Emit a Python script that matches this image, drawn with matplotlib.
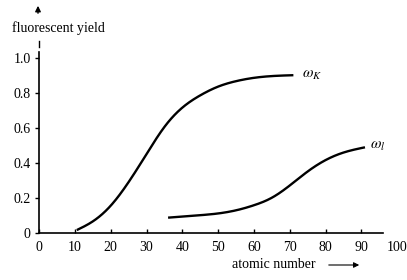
import matplotlib
matplotlib.use("Agg")
import matplotlib.pyplot as plt
import numpy as np
from matplotlib.lines import Line2D

# Data
k_z = [10.5, 15, 20, 25, 30, 35, 40, 45, 50, 55, 60, 65, 71]
k_w = [0.015, 0.065, 0.155, 0.29, 0.45, 0.605, 0.715, 0.785, 0.835, 0.866, 0.885, 0.895, 0.90]
l_z = [36, 45, 50, 55, 60, 65, 70, 75, 80, 85, 91]
l_w = [0.086, 0.10, 0.11, 0.128, 0.157, 0.20, 0.27, 0.35, 0.415, 0.458, 0.488]
x_ticks = [0, 10, 20, 30, 40, 50, 60, 70, 80, 90, 100]
y_ticks = [0, 0.2, 0.4, 0.6, 0.8, 1.0]
y_tick_labels = ["0", "0.2", "0.4", "0.6", "0.8", "1.0"]

plt.rcParams['font.family'] = ['Liberation Serif', 'DejaVu Serif']
plt.rcParams['mathtext.fontset'] = 'stix'

W, H = 407, 280
fig = plt.figure(figsize=(W / 100, H / 100), dpi=100)
left = 39.2 / W
right = (39.2 + 358) / W
bottom = (H - 232.7) / H
top = 1 - 40.2 / H
ax = fig.add_axes([left, bottom, right - left, top - bottom])
ax.set_xlim(0, 100)
ax.set_ylim(0, 1.1)

def spline(xs, ys, n=400):
    xs = np.asarray(xs, float); ys = np.asarray(ys, float)
    N = len(xs); h = np.diff(xs)
    A = np.zeros((N, N)); b = np.zeros(N)
    A[0, 0] = 1; A[-1, -1] = 1
    for i in range(1, N - 1):
        A[i, i - 1] = h[i - 1]; A[i, i] = 2 * (h[i - 1] + h[i]); A[i, i + 1] = h[i]
        b[i] = 6 * ((ys[i + 1] - ys[i]) / h[i] - (ys[i] - ys[i - 1]) / h[i - 1])
    M = np.linalg.solve(A, b)
    xx = np.linspace(xs[0], xs[-1], n)
    idx = np.clip(np.searchsorted(xs, xx) - 1, 0, N - 2)
    x0 = xs[idx]; x1 = xs[idx + 1]; hh = h[idx]
    yy = (M[idx] * (x1 - xx)**3 / (6 * hh) + M[idx + 1] * (xx - x0)**3 / (6 * hh)
          + (ys[idx] / hh - M[idx] * hh / 6) * (x1 - xx)
          + (ys[idx + 1] / hh - M[idx + 1] * hh / 6) * (xx - x0))
    return xx, yy

kx, ky = spline(k_z, k_w)
lx, ly = spline(l_z, l_w)
ax.plot(kx, ky, color='black', lw=1.7, solid_capstyle='butt')
ax.plot(lx, ly, color='black', lw=1.7, solid_capstyle='butt')

ax.text(73.5, 0.90, r'$\omega_K$', fontsize=11, va='center', ha='left')
ax.text(92.5, 0.49, r'$\omega_l$', fontsize=11, va='center', ha='left')

for s in ['top', 'right']:
    ax.spines[s].set_visible(False)
ax.spines['left'].set_bounds(0, 1.03)
ax.spines['bottom'].set_bounds(0, 96)
ax.spines['left'].set_linewidth(1.2)
ax.spines['bottom'].set_linewidth(1.2)

ax.set_xticks(x_ticks)
ax.set_xticklabels([str(v) for v in x_ticks], fontsize=10)
ax.set_yticks(y_ticks)
ax.set_yticklabels(y_tick_labels, fontsize=10)
ax.tick_params(axis='x', direction='in', length=3, width=1, pad=6)
ax.tick_params(axis='y', direction='out', length=3, width=1, pad=3)
ax.xaxis.get_major_ticks()[-1].tick1line.set_visible(False)

# broken axis segment above 1.0 and arrow
fig.add_artist(Line2D([left, left], [1 - 41 / H, 1 - 47 / H], color='black', lw=1.0,
                      transform=fig.transFigure))
fig.text(12 / W, 1 - 28 / H, 'fluorescent yield', fontsize=10, va='center', ha='left')
ax.annotate('', xy=(38 / W, 1 - 3 / H), xytext=(38 / W, 1 - 16 / H),
            xycoords='figure fraction', textcoords='figure fraction',
            arrowprops=dict(arrowstyle='-|>', color='black', lw=1.0, mutation_scale=8))

fig.text(232 / W, 1 - 265 / H, 'atomic number', fontsize=10, va='center', ha='left')
ax.annotate('', xy=(362 / W, 1 - 265 / H), xytext=(326 / W, 1 - 265 / H),
            xycoords='figure fraction', textcoords='figure fraction',
            arrowprops=dict(arrowstyle='-|>', color='black', lw=0.8, mutation_scale=8))

fig.savefig('out.png', dpi=100)
